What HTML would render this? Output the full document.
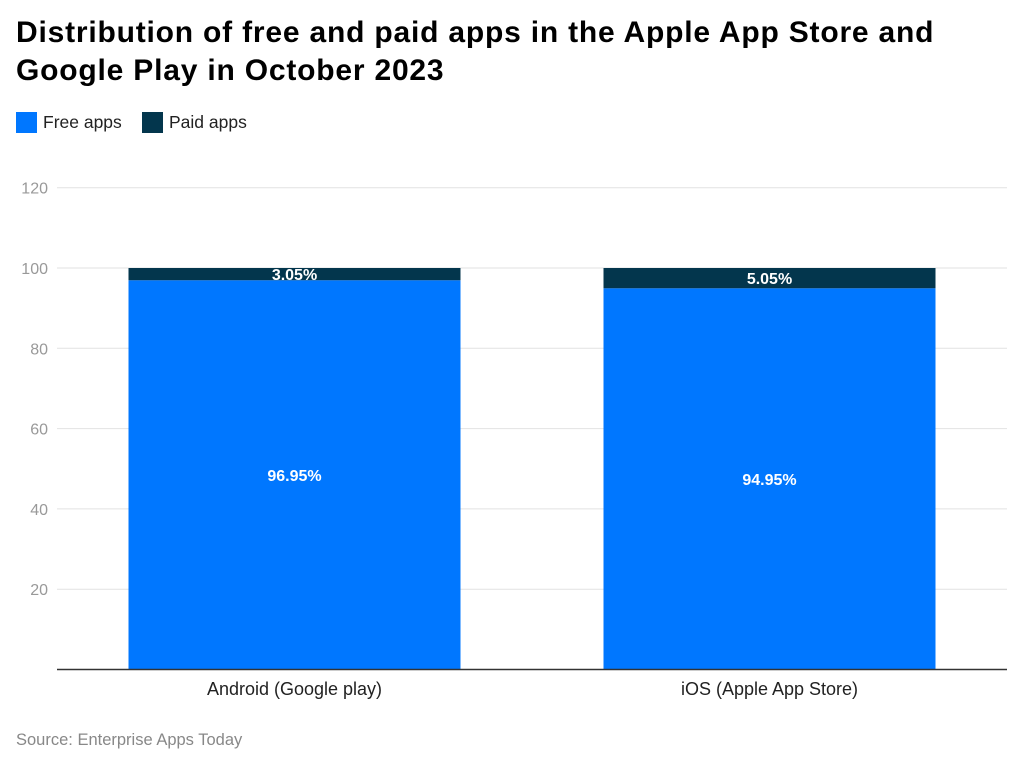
<!DOCTYPE html>
<html><head><meta charset="utf-8"><style>
body{margin:0;background:#fff;font-family:"Liberation Sans",sans-serif;}
#wrap{position:relative;width:1024px;height:767px;overflow:hidden}
h1{position:absolute;left:16px;top:14px;margin:0;font-size:30px;line-height:38px;font-weight:bold;color:#000;width:1000px;white-space:nowrap;letter-spacing:0.8px}
.leg{position:absolute;top:112px;font-size:17.5px;color:#222;display:flex;align-items:center}
.sw{width:21px;height:21px;margin-right:6px}
#src{position:absolute;left:16px;top:731px;font-size:16.5px;color:#888}
</style></head><body>
<div id="wrap">
<h1>Distribution of free and paid apps in the Apple App Store and<br>Google Play in October 2023</h1>
<div class="leg" style="left:16px"><div class="sw" style="background:#0077ff"></div>Free apps</div>
<div class="leg" style="left:142px"><div class="sw" style="background:#03364d"></div>Paid apps</div>
<svg id="chart" width="1024" height="767" style="position:absolute;left:0;top:0"></svg>
<div id="src">Source: Enterprise Apps Today</div>
</div>
<script>
const categories=["Android (Google play)","iOS (Apple App Store)"];
const freeValues=[96.95,94.95];
const paidValues=[3.05,5.05];
const ticks=[20,40,60,80,100,120];
const svg=document.getElementById('chart');
const NS="http://www.w3.org/2000/svg";
const y0=669.5,ppu=4.015,left=57,right=1007;
const y=v=>y0-v*ppu;
const band=(right-left)/categories.length;
const bw=332;
const x=i=>left+band*i+(band-bw)/2;
function mk(t,a){const e=document.createElementNS(NS,t);for(const k in a)e.setAttribute(k,a[k]);svg.appendChild(e);return e;}
ticks.forEach(t=>{
 const l=mk('line',{x1:left,x2:right,y1:y(t),y2:y(t),stroke:'#e2e2e2','stroke-width':1});
 
 
 const tx=mk('text',{x:48,y:y(t)+6,'text-anchor':'end','font-size':16,fill:'#999','font-family':'Liberation Sans, sans-serif'});
 tx.textContent=t;
 
 
});
categories.forEach((c,i)=>{
 const f=mk('rect',{x:x(i),y:y(freeValues[i]),width:bw,height:freeValues[i]*ppu,fill:'#0077ff'});
 
 
 const p=mk('rect',{x:x(i),y:y(freeValues[i]+paidValues[i]),width:bw,height:paidValues[i]*ppu,fill:'#03364d'});
 
 
 const fl=mk('text',{x:x(i)+bw/2,y:y(freeValues[i]/2)+6,'text-anchor':'middle','font-size':16,'font-weight':'bold',fill:'#fff','font-family':'Liberation Sans, sans-serif'});
 fl.textContent=freeValues[i].toFixed(2)+'%';
 
 
 const pl=mk('text',{x:x(i)+bw/2,y:y(freeValues[i]+paidValues[i]/2)+6,'text-anchor':'middle','font-size':16,'font-weight':'bold',fill:'#fff','font-family':'Liberation Sans, sans-serif'});
 pl.textContent=paidValues[i].toFixed(2)+'%';
 
 
 const cl=mk('text',{x:x(i)+bw/2,y:695,'text-anchor':'middle','font-size':18,fill:'#222','font-family':'Liberation Sans, sans-serif'});
 cl.textContent=c;
 
 
});
const ax=mk('line',{x1:left,x2:right,y1:y0,y2:y0,stroke:'#333','stroke-width':1.5});


</script>
</body></html>
